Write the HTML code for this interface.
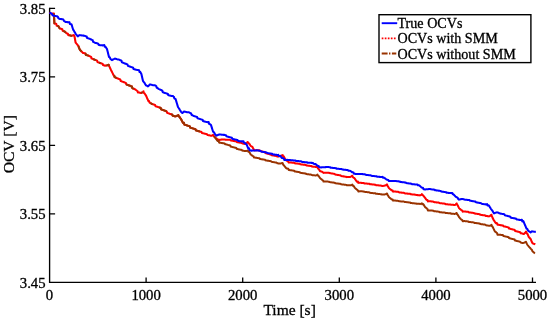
<!DOCTYPE html>
<html><head><meta charset="utf-8"><title>OCV</title>
<style>html,body{margin:0;padding:0;background:#fff}svg{display:block}text{font-family:"Liberation Serif","DejaVu Serif",serif;fill:#000;stroke:#000;stroke-width:0.3px}</style></head><body>
<svg width="550" height="321" viewBox="0 0 550 321">
<rect width="550" height="321" fill="#fff"/>
<path d="M49.6,7.800000000000001 V282.4 H536" fill="none" stroke="#000" stroke-width="1.35"/>
<path d="M146.1,282.4 v-5 M242.7,282.4 v-5 M339.3,282.4 v-5 M435.9,282.4 v-5 M532.5,282.4 v-5 M49.6,8.3 h5.5 M49.6,76.8 h5.5 M49.6,145.35 h5.5 M49.6,213.9 h5.5" fill="none" stroke="#000" stroke-width="1.3"/>
<text transform="translate(49.5,299.9) scale(1.075,1)" font-size="13.7" text-anchor="middle">0</text>
<text transform="translate(146.1,299.9) scale(1.075,1)" font-size="13.7" text-anchor="middle">1000</text>
<text transform="translate(242.7,299.9) scale(1.075,1)" font-size="13.7" text-anchor="middle">2000</text>
<text transform="translate(339.3,299.9) scale(1.075,1)" font-size="13.7" text-anchor="middle">3000</text>
<text transform="translate(435.9,299.9) scale(1.075,1)" font-size="13.7" text-anchor="middle">4000</text>
<text transform="translate(532.5,299.9) scale(1.075,1)" font-size="13.7" text-anchor="middle">5000</text>
<text transform="translate(45.6,14.0) scale(1.075,1)" font-size="13.7" text-anchor="end">3.85</text>
<text transform="translate(45.6,82.1) scale(1.075,1)" font-size="13.7" text-anchor="end">3.75</text>
<text transform="translate(45.6,150.7) scale(1.075,1)" font-size="13.7" text-anchor="end">3.65</text>
<text transform="translate(45.6,219.2) scale(1.075,1)" font-size="13.7" text-anchor="end">3.55</text>
<text transform="translate(45.6,288.3) scale(1.075,1)" font-size="13.7" text-anchor="end">3.45</text>
<text transform="translate(289.6,314.9)" font-size="15.5" text-anchor="middle">Time [s]</text>
<text transform="translate(14.1,144.2) rotate(-90) scale(1.04,1)" font-size="15" text-anchor="middle">OCV [V]</text>
<polyline points="49.50,12.86 49.90,12.89 50.30,12.93 50.70,13.17 51.10,13.83 51.50,13.77 51.90,13.71 52.30,13.65 52.70,13.59 53.10,13.53 53.50,13.45 53.90,13.50 53.90,13.50 54.30,21.42 54.40,23.40 54.70,23.60 55.10,23.47 55.50,23.63 55.90,23.79 56.30,23.95 56.70,25.65 57.10,25.81 57.50,25.97 57.90,26.06 58.30,26.13 58.30,26.13 58.70,26.70 59.10,27.39 59.50,28.08 59.80,28.55 59.90,28.57 60.30,28.63 60.70,28.72 61.10,28.82 61.50,28.93 61.90,29.03 62.30,29.15 62.70,30.83 63.10,30.96 63.50,31.09 63.90,31.18 64.20,31.23 64.30,31.30 64.70,31.60 65.10,31.95 65.50,32.30 65.90,32.65 66.30,33.00 66.70,33.31 67.10,33.55 67.10,33.55 67.50,33.57 67.90,33.68 68.30,35.15 68.70,35.18 69.10,35.22 69.50,35.28 69.90,35.36 70.30,35.46 70.70,35.59 71.10,35.72 71.50,35.84 71.50,35.84 71.90,35.68 72.30,35.53 72.70,35.42 73.10,35.30 73.50,35.19 73.90,35.07 74.30,35.90 74.40,35.90 74.70,37.55 75.10,39.75 75.50,41.95 75.60,42.50 75.90,42.87 76.30,43.42 76.70,43.88 77.10,44.35 77.50,44.81 77.90,45.30 78.30,45.87 78.40,46.00 78.70,46.82 79.10,47.91 79.50,49.00 79.50,49.00 79.90,49.61 80.30,50.21 80.70,50.62 81.10,51.02 81.50,51.43 81.90,51.83 82.30,52.24 82.70,52.64 83.00,52.91 83.10,52.93 83.50,52.98 83.90,53.08 84.30,53.19 84.70,53.32 85.10,53.45 85.50,53.59 85.90,54.89 86.30,55.00 86.70,55.12 87.10,55.24 87.50,55.35 87.90,55.46 88.00,55.49 88.30,55.62 88.70,55.80 89.10,55.98 89.50,56.16 89.90,56.33 90.30,56.50 90.70,56.66 91.10,56.83 91.50,58.37 91.90,58.54 92.30,58.71 92.70,58.88 93.10,59.05 93.50,59.23 93.90,59.40 94.00,59.45 94.30,59.56 94.70,59.70 95.10,59.85 95.50,60.00 95.90,60.14 96.30,60.29 96.70,60.45 97.10,60.60 97.50,62.06 97.90,62.21 98.30,62.36 98.70,62.51 99.10,62.66 99.50,62.81 99.90,62.96 100.00,63.00 100.30,63.09 100.70,63.22 101.10,63.34 101.50,63.47 101.90,63.60 102.30,63.76 102.70,63.93 103.10,65.05 103.50,65.16 103.90,65.28 104.30,65.42 104.70,65.56 105.00,65.68 105.10,65.67 105.50,65.62 105.90,65.59 106.30,65.55 106.70,65.47 107.10,65.36 107.50,65.22 107.90,65.04 108.30,64.89 108.70,64.77 109.00,65.97 109.10,66.05 109.50,66.70 109.90,67.58 110.30,68.46 110.70,69.34 111.00,70.00 111.10,70.20 111.50,71.00 111.90,71.80 112.30,72.60 112.70,73.40 113.10,74.20 113.50,75.00 113.90,75.70 114.00,75.82 114.30,75.75 114.70,77.18 115.10,77.35 115.50,77.52 115.90,77.69 116.30,77.85 116.70,78.02 117.10,78.18 117.50,78.36 117.90,78.54 118.30,78.72 118.70,78.90 119.00,79.03 119.10,79.06 119.50,79.20 119.90,79.34 120.30,79.49 120.70,81.01 121.10,81.15 121.50,81.29 121.90,81.44 122.30,81.59 122.70,81.73 123.10,81.88 123.50,82.03 123.90,82.18 124.30,82.33 124.70,82.48 125.00,82.59 125.10,82.63 125.50,82.78 125.90,82.92 126.30,84.40 126.70,84.54 127.10,84.69 127.50,84.84 127.90,84.99 128.30,85.14 128.70,85.29 129.10,85.44 129.50,85.58 129.90,85.73 130.00,85.77 130.30,85.90 130.70,86.07 131.10,86.23 131.50,86.38 131.90,86.53 132.30,88.12 132.70,88.29 133.10,88.46 133.50,88.61 133.90,88.76 134.00,88.79 134.30,88.97 134.70,89.22 135.10,89.47 135.50,89.73 135.90,89.98 136.30,90.25 136.70,90.52 137.10,90.80 137.50,91.06 137.90,92.51 138.00,92.58 138.30,92.56 138.70,92.56 139.10,92.57 139.50,92.62 139.90,92.69 140.30,92.78 140.70,92.90 141.00,92.98 141.10,92.94 141.50,92.74 141.90,92.52 142.30,92.27 142.70,92.00 143.10,91.70 143.50,91.32 143.60,92.72 143.90,92.86 144.30,93.11 144.70,93.70 145.10,94.29 145.50,94.86 145.90,95.45 146.00,95.60 146.30,96.27 146.70,97.17 147.10,98.07 147.50,98.97 147.90,99.87 148.30,100.77 148.40,100.97 148.70,100.98 149.10,100.99 149.50,102.51 149.90,102.75 150.30,103.00 150.70,103.24 151.10,103.49 151.50,103.73 151.90,103.99 152.00,104.05 152.30,104.13 152.70,104.23 153.10,104.34 153.50,104.46 153.90,104.59 154.30,104.72 154.70,104.86 155.10,105.00 155.50,106.23 155.90,106.36 156.30,106.48 156.70,106.61 157.10,106.73 157.50,106.85 157.90,106.97 158.00,107.00 158.30,107.11 158.70,107.25 159.10,107.40 159.50,107.54 159.90,107.68 160.30,107.81 160.70,107.95 161.10,109.34 161.50,109.48 161.90,109.62 162.30,109.76 162.70,109.90 163.10,110.04 163.50,110.18 163.90,110.32 164.00,110.36 164.30,110.47 164.70,110.62 165.10,110.77 165.50,110.92 165.90,111.07 166.30,111.21 166.70,111.36 167.10,112.83 167.50,112.97 167.90,113.12 168.30,113.26 168.70,113.41 169.10,113.57 169.50,113.72 169.90,113.88 170.00,113.92 170.30,114.00 170.70,114.12 171.10,114.23 171.50,114.35 171.90,114.47 172.30,114.63 172.70,115.71 173.10,115.80 173.50,115.90 173.90,116.02 174.30,116.15 174.70,116.30 175.00,116.42 175.10,116.39 175.50,116.29 175.90,116.18 176.30,116.05 176.70,115.91 177.10,115.74 177.50,115.56 177.90,115.36 178.30,115.07 178.60,116.25 178.70,116.31 179.10,116.50 179.50,116.96 179.90,117.51 180.30,118.06 180.70,118.58 181.00,119.00 181.10,119.20 181.50,120.00 181.90,120.80 182.30,121.60 182.70,122.40 183.00,122.85 183.10,122.83 183.50,122.72 183.90,122.77 184.30,124.55 184.70,124.68 185.10,124.80 185.50,124.90 185.90,124.99 186.30,125.13 186.70,125.29 187.10,125.44 187.50,125.59 187.90,125.75 188.00,125.79 188.30,125.88 188.70,126.00 189.10,126.13 189.50,126.25 189.90,126.38 190.30,127.64 190.70,127.75 191.10,127.87 191.50,128.00 191.90,128.12 192.30,128.24 192.70,128.37 193.10,128.49 193.50,128.62 193.90,128.75 194.00,128.78 194.30,128.87 194.70,128.98 195.10,129.10 195.50,129.21 195.90,130.37 196.30,130.48 196.70,130.60 197.10,130.71 197.50,130.83 197.90,130.94 198.30,131.06 198.70,131.18 199.10,131.30 199.50,131.42 199.90,131.54 200.00,131.57 200.30,131.64 200.70,131.74 201.10,131.84 201.50,131.94 201.90,132.95 202.30,133.05 202.70,133.14 203.10,133.24 203.50,133.34 203.90,133.43 204.30,133.53 204.70,133.64 205.10,133.74 205.50,133.85 205.90,133.95 206.30,134.06 206.50,134.12 206.70,134.16 207.10,134.23 207.50,135.04 207.90,135.11 208.30,135.17 208.70,135.23 209.10,135.28 209.50,135.35 209.90,135.44 210.30,135.54 210.70,135.63 211.10,135.71 211.50,135.77 211.50,135.77 211.90,135.57 212.30,135.35 212.70,135.12 213.10,134.89 213.40,135.79 213.50,135.89 213.90,136.12 214.30,136.50 214.70,136.93 215.10,137.36 215.50,137.78 215.50,137.78 215.90,138.09 216.30,138.38 216.70,138.68 217.10,139.00 217.50,139.31 217.90,139.59 218.00,139.68 218.30,139.65 218.70,139.63 219.10,140.08 219.50,139.94 219.90,139.82 220.30,139.73 220.70,139.68 221.10,139.63 221.50,139.58 221.90,139.53 222.30,139.48 222.70,139.44 223.00,139.40 223.10,139.41 223.50,139.44 223.90,139.47 224.30,139.49 224.70,139.50 225.10,139.63 225.50,139.67 225.90,139.70 226.30,139.73 226.70,139.75 227.10,139.77 227.50,139.79 227.90,139.81 228.30,139.82 228.70,139.83 229.10,139.84 229.50,139.84 229.90,139.84 230.00,139.84 230.30,139.89 230.70,140.39 231.10,140.48 231.50,140.56 231.90,140.64 232.30,140.72 232.70,140.79 233.10,140.86 233.50,140.92 233.90,140.99 234.30,141.05 234.70,141.12 235.10,141.18 235.50,141.25 235.90,141.31 236.00,141.33 236.30,141.38 236.70,142.06 237.10,142.13 237.50,142.20 237.90,142.27 238.30,142.34 238.70,142.41 239.10,142.48 239.50,142.55 239.90,142.62 240.30,142.69 240.70,142.76 241.00,142.82 241.10,142.83 241.50,142.90 241.90,142.96 242.30,143.54 242.70,143.55 243.10,143.59 243.50,143.64 243.90,143.72 244.30,143.82 244.70,143.92 245.00,144.00 245.10,143.93 245.50,143.66 245.90,143.39 246.30,143.11 246.70,142.78 247.10,142.42 247.50,142.03 247.50,142.03 247.90,142.16 248.30,143.19 248.70,143.34 249.00,143.41 249.10,143.53 249.50,144.03 249.90,144.63 250.30,145.29 250.70,145.91 250.70,145.91 251.10,146.16 251.50,146.38 251.90,146.61 252.30,146.91 252.70,147.33 252.70,147.33 253.10,148.21 253.50,148.92 253.90,149.98 254.00,150.23 254.30,150.40 254.70,150.33 255.10,150.26 255.50,150.21 255.90,150.17 256.30,150.14 256.70,150.15 257.10,150.19 257.50,150.21 257.90,150.24 258.30,150.25 258.70,150.26 259.10,150.27 259.50,150.27 259.90,150.83 260.00,150.83 260.30,150.93 260.70,151.05 261.10,151.17 261.50,151.28 261.90,151.39 262.30,151.49 262.70,151.59 263.10,151.68 263.50,151.77 263.90,151.87 264.30,151.96 264.70,152.05 265.10,152.14 265.50,153.11 265.50,153.11 265.90,153.22 266.30,153.33 266.70,153.44 267.10,153.55 267.50,153.65 267.90,153.76 268.30,153.87 268.70,153.98 269.10,154.10 269.50,154.22 269.90,154.34 270.00,154.37 270.30,154.41 270.70,154.47 271.10,154.54 271.50,155.25 271.90,155.30 272.30,155.35 272.70,155.40 273.10,155.46 273.50,155.52 273.90,155.58 274.30,155.65 274.70,155.71 275.10,155.77 275.50,155.86 275.90,155.95 276.30,156.06 276.70,156.17 277.10,156.44 277.50,156.50 277.90,156.57 278.00,156.60 278.30,156.52 278.70,156.41 279.10,156.29 279.50,156.18 279.90,156.07 280.30,155.96 280.70,155.85 281.10,155.70 281.50,155.48 281.60,155.42 281.90,155.36 282.30,155.24 282.70,155.09 283.10,156.60 283.50,156.37 283.60,156.28 283.90,156.62 284.30,157.40 284.70,158.20 285.10,159.00 285.50,159.80 285.60,160.00 285.90,160.21 286.30,160.43 286.70,160.68 287.10,160.92 287.50,161.14 287.90,161.35 288.00,161.44 288.30,161.51 288.70,162.55 289.10,162.51 289.50,162.49 289.90,162.48 290.30,162.49 290.70,162.50 291.10,162.54 291.50,162.58 291.90,162.62 292.30,162.66 292.70,162.70 293.10,162.74 293.50,162.78 293.90,162.82 294.00,162.83 294.30,162.86 294.70,163.29 295.10,163.33 295.50,163.37 295.90,163.42 296.30,163.46 296.70,163.51 297.10,163.55 297.50,163.59 297.90,163.64 298.30,163.68 298.70,163.72 299.10,163.77 299.50,163.81 299.90,163.85 300.30,164.29 300.70,164.33 301.10,164.38 301.50,164.42 301.90,164.46 302.00,164.47 302.30,164.51 302.70,164.56 303.10,164.61 303.50,164.66 303.90,164.71 304.30,164.76 304.70,164.81 305.10,164.86 305.50,164.91 305.90,164.96 306.30,165.45 306.70,165.50 307.10,165.55 307.50,165.60 307.90,165.65 308.30,165.70 308.70,165.75 309.10,165.80 309.50,165.85 309.90,165.90 310.00,165.91 310.30,165.95 310.70,165.99 311.10,166.03 311.50,166.08 311.90,166.53 312.30,166.57 312.70,166.61 313.10,166.67 313.50,166.71 313.90,166.76 314.30,166.80 314.70,166.83 315.10,166.85 315.50,166.85 315.60,166.85 315.90,166.89 316.30,166.93 316.70,166.94 317.10,166.94 317.50,166.97 317.90,168.48 318.00,168.44 318.30,168.67 318.70,169.10 319.10,169.69 319.50,170.30 319.90,170.92 320.00,171.07 320.30,171.18 320.70,171.29 321.10,171.39 321.50,171.53 321.90,171.69 322.30,171.89 322.70,172.12 323.00,172.31 323.10,172.31 323.50,172.89 323.90,172.85 324.30,172.81 324.70,172.79 325.10,172.77 325.50,172.77 325.90,172.77 326.30,172.79 326.70,172.80 327.10,172.81 327.50,172.82 327.90,172.82 328.30,172.82 328.70,172.82 329.10,172.81 329.50,173.10 329.90,173.11 330.00,173.12 330.30,173.18 330.70,173.26 331.10,173.34 331.50,173.41 331.90,173.48 332.30,173.55 332.70,173.61 333.10,173.67 333.50,173.73 333.90,173.79 334.30,173.86 334.70,173.92 335.10,174.53 335.50,174.59 335.90,174.66 336.30,174.72 336.70,174.78 337.10,174.84 337.50,174.90 337.90,174.97 338.00,174.98 338.30,175.03 338.70,175.09 339.10,175.15 339.50,175.21 339.90,175.28 340.30,175.34 340.70,175.40 341.10,176.01 341.50,176.07 341.90,176.14 342.30,176.20 342.70,176.26 343.10,176.32 343.50,176.38 343.90,176.45 344.30,176.52 344.70,176.60 345.10,176.68 345.50,176.77 345.90,176.86 346.00,176.89 346.30,176.88 346.70,177.10 347.10,177.06 347.50,177.02 347.90,177.00 348.30,177.00 348.70,177.00 349.10,177.00 349.50,177.00 349.90,177.00 350.00,177.00 350.30,176.85 350.70,176.62 351.10,176.37 351.50,176.10 351.90,175.77 352.00,175.68 352.30,175.81 352.70,176.95 353.10,177.29 353.50,177.62 353.90,177.85 354.30,178.04 354.40,178.09 354.70,178.50 355.10,179.08 355.50,179.69 355.90,180.30 356.30,180.90 356.70,181.37 357.00,181.63 357.10,181.56 357.50,181.44 357.90,181.49 358.30,182.85 358.70,182.77 359.10,182.71 359.50,182.67 359.90,182.67 360.30,182.71 360.70,182.76 361.10,182.81 361.50,182.87 361.90,182.92 362.00,182.94 362.30,182.96 362.70,182.99 363.10,183.02 363.50,183.05 363.90,183.08 364.30,183.41 364.70,183.44 365.10,183.47 365.50,183.50 365.90,183.53 366.30,183.56 366.70,183.59 367.10,183.62 367.50,183.65 367.90,183.68 368.30,183.71 368.70,183.74 369.10,183.77 369.50,183.79 369.90,184.14 370.00,184.14 370.30,184.18 370.70,184.23 371.10,184.27 371.50,184.32 371.90,184.36 372.30,184.40 372.70,184.44 373.10,184.49 373.50,184.53 373.90,184.57 374.30,184.61 374.70,184.66 375.10,184.70 375.50,184.74 375.90,185.13 376.00,185.14 376.30,185.17 376.70,185.20 377.10,185.23 377.50,185.27 377.90,185.30 378.30,185.33 378.70,185.37 379.10,185.40 379.50,185.44 379.90,185.48 380.30,185.53 380.70,185.59 381.10,185.66 381.50,185.83 381.90,185.86 382.30,185.90 382.70,185.96 383.00,186.00 383.10,185.98 383.50,185.88 383.90,185.78 384.30,185.68 384.70,185.57 385.10,185.43 385.50,185.27 385.90,185.07 386.30,184.86 386.70,184.62 387.00,184.44 387.10,184.64 387.50,185.90 387.90,186.41 388.30,187.00 388.70,187.63 389.00,188.10 389.10,188.20 389.50,188.58 389.90,188.92 390.30,189.25 390.70,189.58 391.10,189.91 391.50,190.24 391.90,190.49 392.00,190.56 392.30,190.58 392.70,190.62 393.10,191.63 393.50,191.58 393.90,191.55 394.30,191.53 394.70,191.54 395.10,191.56 395.50,191.60 395.90,191.64 396.30,191.68 396.70,191.73 397.10,191.77 397.50,191.81 397.90,191.85 398.00,191.86 398.30,191.89 398.70,191.93 399.10,192.36 399.50,192.40 399.90,192.44 400.30,192.49 400.70,192.53 401.10,192.58 401.50,192.62 401.90,192.66 402.30,192.71 402.70,192.75 403.10,192.79 403.50,192.84 403.90,192.88 404.30,192.93 404.70,193.34 405.10,193.39 405.50,193.43 405.90,193.48 406.00,193.49 406.30,193.51 406.70,193.55 407.10,193.58 407.50,193.62 407.90,193.66 408.30,193.69 408.70,193.73 409.10,193.77 409.50,193.81 409.90,193.84 410.30,193.88 410.70,194.25 411.10,194.28 411.50,194.32 411.90,194.36 412.30,194.40 412.70,194.43 413.10,194.47 413.50,194.51 413.90,194.55 414.00,194.56 414.30,194.58 414.70,194.61 415.10,194.65 415.50,194.68 415.90,194.71 416.30,195.05 416.70,195.08 417.10,195.10 417.50,195.12 417.90,195.14 418.30,195.18 418.70,195.23 419.10,195.28 419.50,195.33 419.90,195.38 420.00,195.39 420.30,195.23 420.70,195.00 421.10,194.75 421.50,194.47 421.90,194.16 422.30,194.91 422.40,194.87 422.70,195.12 423.10,195.44 423.50,195.94 423.90,196.43 424.30,196.91 424.40,197.03 424.70,197.42 425.10,197.95 425.50,198.48 425.90,199.01 426.30,199.54 426.70,199.91 427.00,200.09 427.10,200.03 427.50,199.99 427.90,201.41 428.30,201.33 428.70,201.27 429.10,201.24 429.50,201.22 429.90,201.24 430.30,201.28 430.70,201.33 431.10,201.38 431.50,201.44 431.90,201.49 432.00,201.50 432.30,201.53 432.70,201.58 433.10,201.62 433.50,201.66 433.90,202.10 434.30,202.14 434.70,202.19 435.10,202.23 435.50,202.27 435.90,202.32 436.30,202.36 436.70,202.40 437.10,202.45 437.50,202.49 437.90,202.53 438.30,202.58 438.70,202.62 439.10,202.66 439.50,203.09 439.90,203.14 440.00,203.15 440.30,203.18 440.70,203.22 441.10,203.27 441.50,203.31 441.90,203.35 442.30,203.40 442.70,203.44 443.10,203.48 443.50,203.53 443.90,203.57 444.30,203.61 444.70,203.66 445.10,203.70 445.50,204.12 445.90,204.16 446.30,204.20 446.70,204.25 447.10,204.29 447.50,204.34 447.90,204.39 448.00,204.40 448.30,204.41 448.70,204.43 449.10,204.45 449.50,204.47 449.90,204.49 450.30,204.51 450.70,204.54 451.10,204.75 451.50,204.77 451.90,204.80 452.30,204.80 452.70,204.81 453.10,204.84 453.50,204.87 453.90,204.91 454.30,204.94 454.70,204.94 455.00,204.90 455.10,204.83 455.50,204.51 455.90,204.15 456.30,203.80 456.70,203.45 457.00,204.57 457.10,204.62 457.50,205.00 457.90,205.80 458.30,206.60 458.70,207.40 459.00,208.02 459.10,208.13 459.50,208.51 459.90,208.85 460.30,209.18 460.70,209.51 461.10,209.84 461.50,210.14 461.90,210.39 462.00,210.47 462.30,210.49 462.70,211.62 463.10,211.56 463.50,211.52 463.90,211.50 464.30,211.49 464.70,211.51 465.10,211.54 465.50,211.58 465.90,211.62 466.30,211.66 466.70,211.70 467.10,211.73 467.50,211.77 467.90,211.81 468.00,211.82 468.30,211.86 468.70,212.32 469.10,212.37 469.50,212.42 469.90,212.48 470.30,212.53 470.70,212.58 471.10,212.63 471.50,212.68 471.90,212.73 472.30,212.78 472.70,212.83 473.10,212.88 473.50,212.92 473.90,212.97 474.30,213.47 474.70,213.52 475.10,213.57 475.50,213.62 475.90,213.67 476.00,213.68 476.30,213.72 476.70,213.78 477.10,213.84 477.50,213.90 477.90,213.95 478.30,214.01 478.70,214.06 479.10,214.12 479.50,214.17 479.90,214.23 480.30,214.78 480.70,214.84 481.10,214.89 481.50,214.95 481.90,215.00 482.30,215.06 482.70,215.12 483.10,215.17 483.50,215.23 483.90,215.29 484.00,215.30 484.30,215.34 484.70,215.39 485.10,215.44 485.50,215.49 485.90,215.99 486.30,216.01 486.70,216.04 487.10,216.07 487.50,216.12 487.90,216.18 488.30,216.26 488.70,216.34 489.00,216.39 489.10,216.34 489.50,216.12 489.90,215.85 490.30,215.54 490.70,215.23 491.10,214.90 491.50,214.74 491.60,215.89 491.90,216.11 492.30,217.05 492.70,217.99 493.10,218.93 493.30,219.40 493.50,219.70 493.90,220.32 494.30,220.92 494.70,221.52 495.10,222.12 495.50,222.69 495.90,223.11 496.00,223.21 496.30,223.12 496.70,223.12 497.10,223.17 497.50,224.77 497.90,224.76 498.30,224.77 498.70,224.80 499.10,224.87 499.50,224.97 499.80,225.05 499.90,225.07 500.30,225.12 500.70,225.19 501.10,225.25 501.50,225.32 501.90,225.38 502.30,225.46 502.70,225.52 503.10,225.58 503.50,226.30 503.90,226.37 504.30,226.43 504.70,226.50 505.10,226.56 505.30,226.59 505.50,226.65 505.90,226.76 506.30,226.87 506.70,226.98 507.10,227.09 507.50,227.19 507.90,227.29 508.30,227.38 508.70,227.49 509.10,228.50 509.50,228.61 509.90,228.71 510.30,228.81 510.70,228.92 511.10,229.02 511.50,229.12 511.80,229.20 511.90,229.23 512.30,229.33 512.70,229.43 513.10,229.53 513.50,229.63 513.90,229.73 514.30,229.83 514.70,229.94 515.10,230.94 515.50,231.04 515.90,231.14 516.30,231.24 516.70,231.34 517.10,231.45 517.50,231.55 517.90,231.65 518.30,231.75 518.40,231.78 518.70,231.85 519.10,231.95 519.50,232.05 519.90,232.15 520.30,232.26 520.70,233.26 521.10,233.30 521.50,233.35 521.90,233.43 522.30,233.53 522.70,233.65 523.10,233.81 523.50,233.98 523.80,234.09 523.90,234.00 524.30,233.63 524.70,233.23 525.10,232.77 525.50,232.27 525.90,231.76 526.00,231.64 526.30,231.94 526.70,233.29 527.10,233.69 527.50,233.98 527.60,234.10 527.90,234.84 528.30,235.82 528.70,236.80 528.70,236.80 529.10,237.30 529.50,237.75 529.90,238.20 530.30,238.65 530.70,239.25 530.90,239.50 531.10,240.01 531.50,241.03 531.90,242.05 532.00,242.29 532.30,242.87 532.70,243.38 533.10,243.52 533.50,243.67 533.90,243.81 534.30,243.93 534.70,244.07 535.10,244.26 535.30,244.36" fill="none" stroke="#ff0000" stroke-width="2.05" stroke-linejoin="round"/>
<polyline points="53.90,13.50 53.90,13.50 54.30,21.42 54.40,23.40 54.70,23.60" fill="none" stroke="#993300" stroke-width="2.0" stroke-linejoin="round"/>
<polyline points="57.10,25.81 57.50,25.97 57.90,26.06 58.30,26.13 58.30,26.13 58.70,26.70 59.10,27.39 59.50,28.08 59.80,28.55 59.90,28.57" fill="none" stroke="#993300" stroke-width="2.0" stroke-linejoin="round"/>
<polyline points="63.10,30.96 63.50,31.09 63.90,31.18 64.20,31.23 64.30,31.30 64.70,31.60 65.10,31.95 65.50,32.30 65.90,32.65" fill="none" stroke="#993300" stroke-width="2.0" stroke-linejoin="round"/>
<polyline points="69.10,35.22 69.50,35.28 69.90,35.36 70.30,35.46 70.70,35.59 71.10,35.72 71.50,35.84 71.50,35.84 71.90,35.68" fill="none" stroke="#993300" stroke-width="2.0" stroke-linejoin="round"/>
<polyline points="78.30,45.87 78.40,46.00 78.70,46.82 79.10,47.91 79.50,49.00 79.50,49.00 79.90,49.61 80.30,50.21 80.70,50.62 81.10,51.02 81.50,51.43" fill="none" stroke="#993300" stroke-width="2.0" stroke-linejoin="round"/>
<polyline points="85.10,53.45 85.50,53.59 85.90,54.89 86.30,55.00 86.70,55.12 87.10,55.24 87.50,55.35 87.90,55.46 88.00,55.49 88.30,55.62 88.70,55.80" fill="none" stroke="#993300" stroke-width="2.0" stroke-linejoin="round"/>
<polyline points="93.10,59.05 93.50,59.23 93.90,59.40 94.00,59.45 94.30,59.56 94.70,59.70 95.10,59.85 95.50,60.00 95.90,60.14" fill="none" stroke="#993300" stroke-width="2.0" stroke-linejoin="round"/>
<polyline points="99.10,62.66 99.50,62.81 99.90,62.96 100.00,63.00 100.30,63.09 100.70,63.22" fill="none" stroke="#993300" stroke-width="2.0" stroke-linejoin="round"/>
<polyline points="106.30,65.55 106.70,65.47 107.10,65.36 107.50,65.22 107.90,65.04 108.30,64.89 108.70,64.77 109.00,65.97" fill="none" stroke="#993300" stroke-width="2.0" stroke-linejoin="round"/>
<polyline points="114.00,75.82 114.30,75.75 114.70,77.18 115.10,77.35 115.50,77.52 115.90,77.69 116.30,77.85 116.70,78.02" fill="none" stroke="#993300" stroke-width="2.0" stroke-linejoin="round"/>
<polyline points="126.30,84.40 126.70,84.54 127.10,84.69 127.50,84.84 127.90,84.99 128.30,85.14 128.70,85.29 129.10,85.44 129.50,85.58 129.90,85.73 130.00,85.77 130.30,85.90 130.70,86.07 131.10,86.23 131.50,86.38 131.90,86.53 132.30,88.12 132.70,88.29 133.10,88.46 133.50,88.61 133.90,88.76 134.00,88.79" fill="none" stroke="#993300" stroke-width="2.0" stroke-linejoin="round"/>
<polyline points="141.00,92.98 141.10,92.94 141.50,92.74 141.90,92.52 142.30,92.27 142.70,92.00" fill="none" stroke="#993300" stroke-width="2.0" stroke-linejoin="round"/>
<polyline points="150.30,103.00 150.70,103.24 151.10,103.49 151.50,103.73 151.90,103.99 152.00,104.05 152.30,104.13 152.70,104.23" fill="none" stroke="#993300" stroke-width="2.0" stroke-linejoin="round"/>
<polyline points="159.10,107.40 159.50,107.54 159.90,107.68 160.30,107.81 160.70,107.95 161.10,109.34 161.50,109.48 161.90,109.62 162.30,109.76 162.70,109.90 163.10,110.04 163.50,110.18 163.90,110.32 164.00,110.36 164.30,110.47 164.70,110.62 165.10,110.77 165.50,110.92 165.90,111.07 166.30,111.21 166.70,111.36" fill="none" stroke="#993300" stroke-width="2.0" stroke-linejoin="round"/>
<polyline points="171.10,114.23 171.50,114.35 171.90,114.47 172.30,114.63 172.70,115.71 173.10,115.80 173.50,115.90 173.90,116.02 174.30,116.15 174.70,116.30 175.00,116.42 175.10,116.39 175.50,116.29 175.90,116.18 176.30,116.05 176.70,115.91 177.10,115.74 177.50,115.56 177.90,115.36 178.30,115.07 178.60,116.25 178.70,116.31 179.10,116.50 179.50,116.96 179.90,117.51 180.30,118.06 180.70,118.58 181.00,119.00 181.10,119.20 181.50,120.00 181.90,120.80 182.30,121.60 182.70,122.40 183.00,122.85 183.10,122.83 183.50,122.72 183.90,122.77 184.30,124.55 184.70,124.68 185.10,124.80 185.50,124.90 185.90,124.99 186.30,125.13 186.70,125.29 187.10,125.44 187.50,125.59 187.90,125.75 188.00,125.79 188.30,125.88 188.70,126.00 189.10,126.13 189.50,126.25 189.90,126.38 190.30,127.64 190.70,127.75 191.10,127.87 191.50,128.00 191.90,128.12 192.30,128.24 192.70,128.37 193.10,128.49 193.50,128.62 193.90,128.75 194.00,128.78 194.30,128.87 194.70,128.98 195.10,129.10 195.50,129.21 195.90,130.37 196.30,130.48 196.70,130.60 197.10,130.71 197.50,130.83 197.90,130.94 198.30,131.06 198.70,131.18 199.10,131.30 199.50,131.42 199.90,131.54 200.00,131.57" fill="none" stroke="#993300" stroke-width="2.0" stroke-linejoin="round"/>
<polyline points="213.90,136.20 214.30,136.61 214.70,137.09 215.10,137.56 215.50,138.03 215.50,138.03 215.90,138.60 216.30,139.19 216.70,139.78 217.10,140.37 217.50,140.81 217.70,141.00 217.90,140.95 218.30,140.91 218.70,140.97 219.10,142.64 219.50,142.64 219.90,142.67 220.30,142.71 220.70,142.79 221.10,142.91 221.30,142.97 221.50,142.99 221.90,143.05 222.30,143.10 222.70,143.16 223.10,143.23 223.50,143.29 223.90,143.35 224.30,143.42 224.70,143.46 225.10,144.21 225.50,144.28 225.90,144.34 226.20,144.39 226.30,144.42 226.70,144.54 227.10,144.66 227.50,144.77 227.90,144.89 228.30,145.00 228.70,145.10 229.10,145.21 229.50,145.31 229.90,145.42 230.30,145.53 230.70,146.57 231.10,146.68 231.50,146.78 231.90,146.89 232.30,147.00 232.70,147.11 232.70,147.11 233.10,147.20 233.50,147.29 233.90,147.38 234.30,147.47 234.70,147.57 235.10,147.66 235.50,147.76 235.90,147.85 236.30,147.95 236.70,148.87 237.10,148.96 237.50,149.05 237.90,149.14 238.30,149.24 238.70,149.34 239.10,149.44 239.30,149.49 239.50,149.52 239.90,149.58 240.30,149.65 240.70,149.72 241.10,149.79 241.50,149.86 241.90,149.94 242.30,150.62 242.70,150.67 243.10,150.73 243.50,150.80 243.90,150.87 244.30,150.95 244.70,151.03 245.00,151.10 245.10,151.09 245.50,151.08 245.90,151.06 246.30,150.99 246.70,150.89 247.10,150.77 247.50,150.61 247.90,150.45 248.30,151.71 248.70,151.60 248.80,151.50 249.10,151.77 249.50,152.32 249.90,153.01 250.30,153.71 250.70,154.41 250.70,154.41 251.10,154.74 251.50,155.04 251.90,155.35 252.30,155.66 252.70,155.94 253.10,156.13 253.20,156.19 253.50,156.25 253.90,157.58 254.30,157.57 254.70,157.58 255.10,157.61 255.50,157.64 255.90,157.69 256.30,157.76 256.70,157.83 257.10,157.91 257.50,157.99 257.90,158.06 258.30,158.14 258.70,158.22 258.90,158.26 259.10,158.29 259.50,158.35 259.90,158.99 260.30,159.04 260.70,159.10 261.10,159.16 261.50,159.21 261.90,159.27 262.30,159.33 262.70,159.39 263.10,159.45 263.50,159.51 263.90,159.57 264.30,159.63 264.70,159.69 265.10,159.75 265.50,160.35 265.50,160.35 265.90,160.41 266.30,160.47 266.70,160.54 267.10,160.60 267.50,160.66 267.90,160.72 268.30,160.78 268.70,160.84 269.10,160.90 269.50,160.96 269.90,161.02 270.30,161.08 270.70,161.14 271.10,161.20 271.50,161.82 271.90,161.88 272.00,161.89 272.30,161.94 272.70,162.01 273.10,162.07 273.50,162.13 273.90,162.20 274.30,162.26 274.70,162.33 275.10,162.39 275.50,162.45 275.90,162.53 276.30,162.60 276.70,162.69 277.10,163.22 277.50,163.28 277.90,163.35 278.30,163.42 278.60,163.47 278.70,163.47 279.10,163.46 279.50,163.46 279.90,163.46 280.30,163.44 280.70,163.40 281.10,163.34 281.50,163.26 281.90,163.15 282.30,163.01 282.60,162.95 282.70,163.11 283.10,164.54 283.50,164.95 283.90,165.43 284.30,165.92 284.30,165.92 284.70,166.39 285.10,166.85 285.50,167.31 285.90,167.77 286.30,168.20 286.70,168.55 286.70,168.55 287.10,168.52 287.50,168.60 287.90,168.70 288.30,168.82 288.70,170.02 289.10,170.03 289.50,170.07 289.90,170.14 290.00,170.16 290.30,170.20 290.70,170.25 291.10,170.31 291.50,170.36 291.90,170.42 292.30,170.48 292.70,170.55 293.10,170.61 293.50,170.68 293.90,170.74 294.00,170.75 294.30,170.80 294.70,171.41 295.10,171.47 295.50,171.54 295.90,171.60 296.30,171.66 296.70,171.72 297.10,171.78 297.50,171.85 297.90,171.91 298.30,171.97 298.70,172.03 299.10,172.10 299.50,172.16 299.90,172.23 300.30,172.82 300.70,172.88 301.10,172.94 301.50,173.01 301.90,173.07 302.00,173.09 302.30,173.12 302.70,173.16 303.10,173.21 303.50,173.26 303.90,173.31 304.30,173.36 304.70,173.41 305.10,173.46 305.50,173.51 305.90,173.56 306.30,174.05 306.70,174.10 307.10,174.15 307.50,174.20 307.90,174.25 308.30,174.30 308.70,174.35 309.10,174.40 309.50,174.45 309.90,174.50 310.00,174.52 310.30,174.55 310.70,174.59 311.10,174.63 311.50,174.67 311.90,175.09 312.30,175.13 312.70,175.17 313.10,175.21 313.50,175.24 313.90,175.28 314.30,175.32 314.70,175.38 315.10,175.44 315.50,175.47 315.90,175.48 316.00,175.48 316.30,175.32 316.70,175.08 317.10,174.82 317.50,174.57 317.90,175.58 318.00,175.54 318.30,175.73 318.70,176.09 319.10,176.69 319.50,177.29 319.90,177.89 320.00,178.04 320.30,178.31 320.70,178.65 321.10,178.98 321.50,179.31 321.90,179.64 322.30,179.98 322.70,180.25 323.00,180.44 323.10,180.44 323.50,181.58 323.90,181.52 324.30,181.46 324.70,181.43 325.10,181.41 325.50,181.41 325.90,181.43 326.30,181.47 326.70,181.50 327.10,181.54 327.50,181.57 327.90,181.60 328.30,181.63 328.70,181.66 329.10,181.69 329.50,182.09 329.90,182.12 330.00,182.13 330.30,182.17 330.70,182.23 331.10,182.28 331.50,182.34 331.90,182.39 332.30,182.44 332.70,182.49 333.10,182.54 333.50,182.59 333.90,182.64 334.30,182.69 334.70,182.73 335.10,183.22 335.50,183.27 335.90,183.32 336.30,183.37 336.70,183.42 337.10,183.47 337.50,183.52 337.90,183.57 338.00,183.59 338.30,183.62 338.70,183.66 339.10,183.70 339.50,183.75 339.90,183.79 340.30,183.83 340.70,183.88 341.10,184.31 341.50,184.35 341.90,184.40 342.30,184.44 342.70,184.48 343.10,184.53 343.50,184.57 343.90,184.61 344.30,184.66 344.70,184.71 345.10,184.76 345.50,184.81 345.90,184.87 346.00,184.88 346.30,184.90 346.70,185.18 347.10,185.18 347.50,185.19 347.90,185.21 348.30,185.22 348.70,185.23 349.10,185.25 349.50,185.28 349.90,185.31 350.30,185.32 350.70,185.30 351.00,185.26 351.10,185.22 351.50,185.03 351.90,184.81 352.30,184.58 352.70,185.60 353.00,185.49 353.10,185.56 353.50,185.86 353.90,186.39 354.30,186.98 354.70,187.58 355.00,188.02 355.10,188.11 355.50,188.45 355.90,188.78 356.30,189.11 356.70,189.44 357.10,189.78 357.50,190.11 357.90,190.33 358.00,190.41 358.30,191.55 358.70,191.46 359.10,191.39 359.50,191.34 359.90,191.30 360.30,191.28 360.70,191.29 361.10,191.31 361.50,191.33 361.90,191.35 362.30,191.37 362.70,191.39 363.10,191.41 363.50,191.43 363.90,191.44 364.00,191.75 364.30,191.79 364.70,191.84 365.10,191.89 365.50,191.94 365.90,191.99 366.30,192.03 366.70,192.08 367.10,192.12 367.50,192.17 367.90,192.21 368.30,192.25 368.70,192.30 369.10,192.34 369.50,192.39 369.90,192.81 370.30,192.85 370.70,192.89 371.10,192.94 371.50,192.98 371.90,193.03 372.00,193.04 372.30,193.06 372.70,193.10 373.10,193.13 373.50,193.17 373.90,193.21 374.30,193.25 374.70,193.28 375.10,193.32 375.50,193.36 375.90,193.73 376.30,193.76 376.70,193.80 377.10,193.84 377.50,193.87 377.90,193.91 378.30,193.95 378.70,193.99 379.10,194.03 379.50,194.07 379.90,194.11 380.00,194.12 380.30,194.14 380.70,194.17 381.10,194.20 381.50,194.44 381.90,194.45 382.30,194.46 382.70,194.48 383.10,194.51 383.50,194.55 383.90,194.59 384.00,194.60 384.30,194.54 384.70,194.44 385.10,194.31 385.50,194.15 385.90,193.97 386.30,193.77 386.70,193.56 387.00,193.43 387.10,193.63 387.50,194.90 387.90,195.41 388.30,196.00 388.70,196.63 389.00,197.10 389.10,197.20 389.50,197.58 389.90,197.92 390.30,198.25 390.70,198.58 391.10,198.91 391.50,199.24 391.90,199.49 392.00,199.56 392.30,199.58 392.70,199.62 393.10,200.63 393.50,200.58 393.90,200.55 394.30,200.53 394.70,200.54 395.10,200.56 395.50,200.60 395.90,200.64 396.30,200.69 396.70,200.73 397.10,200.77 397.50,200.82 397.90,200.87 398.00,200.88 398.30,200.90 398.70,200.93 399.10,201.27 399.50,201.30 399.90,201.32 400.30,201.35 400.70,201.38 401.10,201.41 401.50,201.44 401.90,201.47 402.30,201.50 402.70,201.54 403.10,201.57 403.50,201.59 403.90,201.62 404.30,201.65 404.70,201.98 405.10,202.01 405.50,202.04 405.90,202.07 406.00,202.08 406.30,202.12 406.70,202.16 407.10,202.21 407.50,202.26 407.90,202.30 408.30,202.34 408.70,202.39 409.10,202.43 409.50,202.47 409.90,202.52 410.30,202.56 410.70,202.99 411.10,203.03 411.50,203.07 411.90,203.11 412.30,203.16 412.70,203.20 413.10,203.25 413.50,203.30 413.90,203.35 414.00,203.36 414.30,203.37 414.70,203.39 415.10,203.41 415.50,203.43 415.90,203.46 416.30,203.70 416.70,203.71 417.10,203.73 417.50,203.75 417.90,203.77 418.30,203.79 418.70,203.81 419.10,203.84 419.50,203.87 419.90,203.91 420.30,203.90 420.70,203.86 421.00,203.80 421.10,203.75 421.50,203.53 421.90,203.27 422.30,204.29 422.70,204.17 423.00,204.00 423.10,204.08 423.50,204.47 423.90,205.13 424.30,205.81 424.70,206.49 425.00,206.99 425.10,207.07 425.50,207.39 425.90,207.71 426.30,208.04 426.70,208.38 427.10,208.71 427.50,209.01 427.90,210.49 428.00,210.58 428.30,210.52 428.70,210.47 429.10,210.43 429.50,210.41 429.90,210.40 430.30,210.41 430.70,210.44 431.10,210.48 431.50,210.53 431.90,210.57 432.30,210.61 432.70,210.65 433.10,210.69 433.50,210.73 433.90,211.15 434.00,211.16 434.30,211.19 434.70,211.23 435.10,211.28 435.50,211.32 435.90,211.37 436.30,211.41 436.70,211.45 437.10,211.50 437.50,211.54 437.90,211.58 438.30,211.63 438.70,211.67 439.10,211.71 439.50,212.14 439.90,212.18 440.30,212.22 440.70,212.26 441.10,212.31 441.50,212.35 441.90,212.40 442.00,212.41 442.30,212.43 442.70,212.46 443.10,212.49 443.50,212.52 443.90,212.55 444.30,212.58 444.70,212.62 445.10,212.65 445.50,212.96 445.90,212.99 446.30,213.02 446.70,213.05 447.10,213.08 447.50,213.11 447.90,213.14 448.30,213.17 448.70,213.20 449.10,213.24 449.50,213.27 449.90,213.30 450.00,213.31 450.30,213.33 450.70,213.36 451.10,213.66 451.50,213.69 451.90,213.72 452.30,213.74 452.70,213.76 453.10,213.79 453.50,213.82 453.90,213.87 454.30,213.90 454.70,213.90 455.00,213.87 455.10,213.83 455.50,213.64 455.90,213.41 456.30,213.18 456.70,212.93 457.00,214.20 457.10,214.25 457.50,214.48 457.90,215.13 458.30,215.81 458.70,216.50 459.00,217.03 459.10,217.15 459.50,217.61 459.90,218.05 460.30,218.48 460.70,218.91 461.10,219.35 461.50,219.74 461.90,219.97 462.00,220.03 462.30,220.00 462.70,221.29 463.10,221.21 463.50,221.16 463.90,221.12 464.30,221.10 464.70,221.11 465.10,221.14 465.50,221.18 465.90,221.22 466.30,221.26 466.70,221.30 467.10,221.34 467.50,221.38 467.90,221.42 468.00,221.43 468.30,221.46 468.70,221.89 469.10,221.93 469.50,221.97 469.90,222.02 470.30,222.06 470.70,222.11 471.10,222.15 471.50,222.19 471.90,222.24 472.30,222.28 472.70,222.32 473.10,222.37 473.50,222.41 473.90,222.45 474.30,222.89 474.70,222.93 475.10,222.98 475.50,223.02 475.90,223.06 476.00,223.07 476.30,223.11 476.70,223.16 477.10,223.21 477.50,223.26 477.90,223.31 478.30,223.36 478.70,223.41 479.10,223.46 479.50,223.51 479.90,223.56 480.30,224.05 480.70,224.10 481.10,224.15 481.50,224.20 481.90,224.25 482.30,224.30 482.70,224.35 483.10,224.40 483.50,224.44 483.90,224.49 484.00,224.50 484.30,224.55 484.70,224.60 485.10,224.66 485.50,224.72 485.90,225.28 486.30,225.34 486.70,225.40 487.10,225.45 487.50,225.50 487.90,225.55 488.30,225.62 488.70,225.69 489.10,225.77 489.50,225.80 489.90,225.80 490.00,225.80 490.30,225.64 490.70,225.39 491.10,225.11 491.50,224.87 491.90,226.25 492.00,226.08 492.30,226.29 492.70,227.00 493.10,227.80 493.50,228.60 493.90,229.40 494.30,230.20 494.70,231.00 494.90,231.39 495.10,231.55 495.50,231.81 495.90,232.14 496.30,232.48 496.70,232.81 497.10,233.09 497.50,234.66 497.60,234.75 497.90,234.69 498.30,234.67 498.70,234.66 499.10,234.67 499.50,234.69 499.90,234.72 500.30,234.78 500.70,234.84 501.10,234.90 501.50,234.95 501.90,235.01 502.30,235.06 502.70,235.11 503.10,235.16 503.10,235.84 503.50,235.95 503.90,236.06 504.30,236.16 504.70,236.26 505.10,236.36 505.50,236.45 505.90,236.55 506.30,236.64 506.70,236.73 507.10,236.82 507.50,236.91 507.90,237.00 508.30,237.09 508.70,237.17 509.10,238.11 509.50,238.20 509.60,238.23 509.90,238.31 510.30,238.41 510.70,238.52 511.10,238.62 511.50,238.72 511.90,238.83 512.30,238.93 512.70,239.03 513.10,239.13 513.50,239.23 513.90,239.33 514.30,239.44 514.70,239.54 515.10,240.53 515.50,240.63 515.90,240.73 516.20,240.81 516.30,240.83 516.70,240.93 517.10,241.02 517.50,241.11 517.90,241.21 518.30,241.30 518.70,241.40 519.10,241.50 519.50,241.59 519.90,241.71 520.30,241.85 520.70,242.62 521.10,242.69 521.50,242.78 521.90,242.88 522.30,242.99 522.70,243.12 522.70,243.12 523.10,243.01 523.50,242.90 523.90,242.76 524.30,242.60 524.70,242.42 525.10,242.22 525.50,242.01 525.90,241.76 526.00,241.77 526.30,242.51 526.70,243.48 527.10,244.16 527.50,244.88 527.60,245.07 527.90,245.46 528.30,245.95 528.70,246.40 529.10,246.85 529.50,247.30 529.80,247.64 529.90,247.75 530.30,248.21 530.70,248.68 531.10,249.11 531.40,249.42 531.50,249.50 531.90,249.82 532.30,251.07 532.70,251.43 533.10,251.79 533.50,252.15 533.90,252.51 534.30,252.86 534.70,253.25 534.90,253.42" fill="none" stroke="#993300" stroke-width="2.0" stroke-linejoin="round"/>
<polyline points="49.50,12.57 49.90,12.79 50.30,13.00 50.70,13.20 51.10,13.39 51.50,13.57 51.90,13.75 52.30,15.07 52.70,15.27 53.10,15.49 53.30,15.57 53.50,15.61 53.90,15.68 54.30,15.76 54.70,15.85 55.10,15.94 55.50,16.02 55.90,16.10 56.30,16.18 56.70,16.25 57.10,16.34 57.20,16.36 57.50,16.59 57.90,16.89 58.30,18.09 58.70,18.34 59.10,18.60 59.50,18.89 59.60,18.95 59.90,18.98 60.30,19.02 60.70,19.06 61.10,19.10 61.50,19.13 61.90,19.17 62.30,19.21 62.70,19.25 62.70,19.25 63.10,19.49 63.50,19.76 63.90,20.96 64.30,21.18 64.70,21.41 65.10,21.64 65.50,21.90 65.80,22.07 65.90,22.07 66.30,22.08 66.70,22.09 67.10,22.11 67.50,22.13 67.90,22.15 68.30,22.18 68.60,22.16 68.70,22.17 69.10,22.14 69.50,22.23 69.90,24.00 70.30,24.12 70.70,24.24 71.10,24.18 71.50,24.20 71.50,24.20 71.90,25.56 72.30,26.92 72.70,28.28 73.00,29.30 73.10,29.47 73.50,30.14 73.90,30.81 74.30,31.49 74.70,32.16 75.10,32.77 75.20,32.90 75.50,33.56 75.90,34.11 76.30,34.58 76.70,35.05 77.10,35.51 77.50,36.06 77.80,36.39 77.90,36.31 78.30,35.99 78.70,35.71 79.10,35.44 79.50,35.20 79.60,35.14 79.90,35.19 80.30,35.26 80.70,35.30 81.10,35.34 81.50,35.37 81.90,35.47 82.30,35.55 82.70,35.60 83.10,35.61 83.50,35.62 83.90,35.61 84.00,35.61 84.30,35.74 84.70,35.90 85.10,36.05 85.50,36.20 85.90,36.33 86.30,36.45 86.70,36.57 87.10,37.91 87.50,38.05 87.90,38.20 88.30,38.34 88.70,38.47 89.10,38.60 89.50,38.73 89.80,38.82 89.90,38.87 90.30,39.08 90.70,39.28 91.10,39.48 91.50,39.68 91.90,39.87 92.30,40.07 92.70,40.27 93.10,41.80 93.50,41.99 93.90,42.18 94.30,42.38 94.70,42.60 95.00,42.76 95.10,42.79 95.50,42.88 95.90,42.99 96.30,43.10 96.70,43.21 97.10,43.34 97.50,43.47 97.90,43.62 98.30,43.77 98.70,44.80 99.10,44.92 99.50,45.04 99.90,45.16 100.00,45.19 100.30,45.21 100.70,45.23 101.10,45.26 101.50,45.30 101.90,45.34 102.30,45.37 102.70,45.37 103.10,45.35 103.50,45.30 103.90,45.22 104.30,45.06 104.70,46.68 105.00,46.49 105.10,46.55 105.50,46.86 105.90,47.39 106.30,47.98 106.70,48.55 107.00,49.00 107.10,49.40 107.50,51.00 107.90,52.60 108.30,54.20 108.70,55.80 109.00,57.00 109.10,57.10 109.50,57.28 109.90,57.46 110.30,58.78 110.70,59.11 111.10,59.44 111.50,59.78 111.90,60.06 112.00,60.11 112.30,59.93 112.70,59.70 113.10,59.49 113.50,59.29 113.90,59.10 114.30,58.93 114.70,58.74 115.00,58.60 115.10,58.62 115.50,58.72 115.90,58.82 116.30,58.99 116.70,59.15 117.10,59.28 117.50,59.38 117.90,59.47 118.30,59.52 118.70,59.56 119.00,59.58 119.10,59.63 119.50,59.83 119.90,60.03 120.30,60.21 120.70,60.39 121.10,60.56 121.50,60.72 121.90,62.22 122.30,62.40 122.70,62.57 123.10,62.75 123.50,62.93 123.90,63.12 124.00,63.16 124.30,63.27 124.70,63.41 125.10,63.55 125.50,63.69 125.90,63.83 126.30,63.98 126.70,64.13 127.10,64.28 127.50,64.42 127.90,65.84 128.30,65.99 128.70,66.13 129.10,66.28 129.50,66.42 129.90,66.57 130.00,66.61 130.30,66.70 130.70,66.84 131.10,66.97 131.50,67.10 131.90,67.23 132.30,67.37 132.70,67.51 133.10,67.66 133.50,68.94 133.90,69.07 134.30,69.20 134.70,69.34 135.00,69.44 135.10,69.47 135.50,69.57 135.90,69.67 136.30,69.77 136.70,69.88 137.10,69.98 137.50,70.04 137.90,70.08 138.30,70.08 138.70,70.14 139.10,70.21 139.50,71.92 139.90,71.71 140.00,71.67 140.30,72.01 140.70,72.70 141.10,73.44 141.40,74.00 141.50,74.44 141.90,76.19 142.30,77.94 142.70,79.69 143.00,81.00 143.10,81.13 143.50,81.66 143.90,82.06 144.30,82.57 144.70,83.07 145.10,84.01 145.50,84.55 145.90,85.17 146.00,85.31 146.30,85.49 146.70,85.68 147.10,85.86 147.50,86.09 147.90,86.33 148.00,86.39 148.30,86.08 148.70,85.69 149.10,85.30 149.50,84.90 149.90,84.50 150.00,84.40 150.30,84.47 150.70,84.57 151.10,84.66 151.50,84.76 151.90,84.86 152.30,85.02 152.70,85.14 153.10,85.22 153.50,85.27 153.90,85.30 154.30,85.32 154.70,85.33 155.00,85.33 155.10,85.39 155.50,85.70 155.90,85.97 156.30,86.21 156.70,87.60 157.10,87.88 157.50,88.15 157.90,88.41 158.30,88.66 158.70,88.93 159.00,89.12 159.10,89.16 159.50,89.34 159.90,89.51 160.30,89.68 160.70,89.86 161.10,90.03 161.50,90.22 161.90,90.42 162.30,90.61 162.70,92.09 163.10,92.27 163.50,92.45 163.90,92.65 164.00,92.70 164.30,92.78 164.70,92.90 165.10,93.02 165.50,93.14 165.90,93.26 166.30,93.39 166.70,93.53 167.10,93.67 167.50,93.81 167.90,93.95 168.30,95.14 168.70,95.27 169.00,95.37 169.10,95.39 169.50,95.47 169.90,95.56 170.30,95.66 170.70,95.75 171.10,95.84 171.50,95.92 171.90,95.99 172.30,96.05 172.70,96.07 173.00,96.09 173.10,96.18 173.50,96.57 173.90,96.89 174.30,98.30 174.70,98.59 175.10,98.78 175.50,98.91 175.60,99.00 175.90,100.00 176.30,101.33 176.70,102.67 177.10,104.00 177.50,105.33 177.90,106.67 178.00,107.00 178.30,107.46 178.70,108.04 179.10,108.64 179.50,109.25 179.90,109.97 180.30,110.57 180.70,111.25 181.00,111.76 181.10,111.87 181.50,112.27 181.90,112.63 182.30,112.97 182.40,113.05 182.70,112.74 183.10,112.34 183.50,111.98 183.90,111.64 184.00,111.56 184.30,111.62 184.70,111.71 185.10,111.78 185.50,111.84 185.90,111.90 186.30,112.02 186.70,112.15 187.10,112.24 187.50,112.27 187.90,112.30 188.30,112.32 188.70,112.32 189.00,112.32 189.10,112.37 189.50,112.59 189.90,112.80 190.30,113.00 190.70,113.18 191.10,113.36 191.50,114.81 191.90,115.03 192.30,115.23 192.70,115.42 193.10,115.61 193.50,115.81 193.90,116.02 194.00,116.07 194.30,116.15 194.70,116.26 195.10,116.38 195.50,116.50 195.90,116.62 196.30,116.75 196.70,116.88 197.10,117.02 197.50,118.24 197.90,118.37 198.30,118.49 198.70,118.62 199.10,118.74 199.50,118.86 199.90,118.99 200.00,119.02 200.30,119.11 200.70,119.24 201.10,119.36 201.50,119.48 201.90,119.61 202.30,119.74 202.70,119.87 203.10,121.06 203.50,121.18 203.90,121.30 204.30,121.42 204.70,121.55 205.00,121.65 205.10,121.67 205.50,121.75 205.90,121.84 206.30,121.92 206.70,121.99 207.10,122.06 207.50,122.11 207.90,122.15 208.30,122.07 208.70,122.09 209.00,123.70 209.10,123.74 209.50,123.91 209.90,124.21 210.30,124.54 210.70,124.71 211.00,125.00 211.10,125.32 211.50,126.62 211.90,127.92 212.30,129.22 212.70,130.52 213.00,131.50 213.10,131.62 213.50,131.96 213.90,132.29 214.30,132.72 214.70,133.84 215.10,134.26 215.50,134.68 215.90,135.10 216.30,135.58 216.40,135.67 216.70,135.50 217.10,135.30 217.50,135.12 217.90,134.96 218.30,134.83 218.70,134.71 219.10,134.57 219.50,134.43 219.60,134.40 219.90,134.44 220.30,134.49 220.70,134.53 221.10,134.59 221.50,134.66 221.90,134.73 222.30,134.78 222.70,134.82 223.10,134.84 223.50,134.86 223.90,134.87 224.30,134.87 224.50,134.87 224.70,134.93 225.10,135.05 225.50,135.16 225.90,135.26 226.30,136.19 226.70,136.33 227.10,136.46 227.50,136.59 227.90,136.70 228.30,136.80 228.70,136.91 229.10,137.02 229.50,137.13 229.50,137.13 229.90,137.24 230.30,137.35 230.70,137.45 231.10,137.56 231.50,137.67 231.90,137.78 232.30,138.81 232.70,138.91 233.10,139.02 233.50,139.13 233.90,139.24 234.30,139.35 234.40,139.37 234.70,139.43 235.10,139.51 235.50,139.60 235.90,139.68 236.30,139.77 236.70,139.86 237.10,139.96 237.50,140.06 237.90,140.84 238.30,140.93 238.70,141.01 239.10,141.10 239.30,141.15 239.50,141.16 239.90,141.20 240.30,141.24 240.70,141.29 241.10,141.33 241.50,141.37 241.90,141.39 242.30,141.39 242.70,141.38 243.10,141.35 243.50,141.30 243.90,142.58 244.20,142.64 244.30,142.67 244.70,142.84 245.10,143.16 245.50,143.51 245.90,143.87 246.30,144.20 246.60,144.50 246.70,144.74 247.10,145.71 247.50,146.67 247.90,147.64 248.30,148.56 248.30,148.56 248.70,148.43 249.10,148.38 249.50,150.13 249.90,150.27 250.30,150.38 250.70,150.43 251.10,150.53 251.50,150.69 251.50,150.69 251.90,150.62 252.30,150.56 252.70,150.51 253.10,150.48 253.50,150.47 253.90,150.47 254.30,150.46 254.70,150.43 255.10,150.41 255.50,150.40 255.90,150.40 256.30,150.39 256.70,150.37 257.10,150.35 257.30,150.33 257.50,150.38 257.90,150.47 258.30,150.55 258.70,150.63 259.10,150.70 259.50,150.76 259.90,150.82 260.30,150.87 260.70,150.93 261.10,151.57 261.50,151.64 261.90,151.70 262.30,151.76 262.70,151.83 263.10,151.89 263.50,151.96 263.80,152.01 263.90,152.02 264.30,152.08 264.70,152.14 265.10,152.20 265.50,152.27 265.90,152.33 266.30,152.39 266.70,152.45 267.10,153.05 267.50,153.11 267.90,153.17 268.30,153.23 268.70,153.29 268.70,153.29 269.10,153.34 269.50,153.40 269.90,153.46 270.30,153.51 270.70,153.57 271.10,153.62 271.50,153.68 271.90,153.74 272.30,153.79 272.70,154.35 273.10,154.40 273.50,154.46 273.90,154.52 274.30,154.57 274.70,154.63 275.10,154.69 275.30,154.72 275.50,154.74 275.90,154.79 276.30,154.84 276.70,154.89 277.10,154.94 277.50,154.94 277.90,154.91 278.30,154.85 278.70,155.90 279.10,155.94 279.50,155.95 279.90,155.96 280.20,155.90 280.30,156.00 280.70,156.46 281.10,157.00 281.50,157.55 281.80,157.92 281.90,157.95 282.30,158.02 282.70,158.13 283.10,158.26 283.50,158.44 283.90,158.66 284.30,159.87 284.70,159.94 285.00,160.04 285.10,160.03 285.50,159.98 285.90,159.94 286.30,159.91 286.70,159.89 287.10,159.88 287.50,159.89 287.90,159.90 288.30,159.91 288.70,159.91 289.10,159.91 289.50,159.91 289.90,159.91 290.00,160.09 290.30,160.12 290.70,160.16 291.10,160.20 291.50,160.24 291.90,160.28 292.30,160.31 292.70,160.35 293.10,160.38 293.50,160.41 293.90,160.44 294.30,160.47 294.70,160.50 295.10,160.53 295.50,160.56 295.90,160.88 296.30,160.91 296.70,160.94 297.10,160.97 297.50,161.00 297.90,161.03 298.00,161.04 298.30,161.08 298.70,161.12 299.10,161.17 299.50,161.21 299.90,161.26 300.30,161.30 300.70,161.34 301.10,161.38 301.50,161.43 301.90,161.86 302.30,161.90 302.70,161.94 303.10,161.98 303.50,162.03 303.90,162.07 304.30,162.11 304.70,162.16 305.10,162.21 305.50,162.26 305.90,162.31 306.00,162.32 306.30,162.34 306.70,162.36 307.10,162.39 307.50,162.68 307.90,162.69 308.30,162.71 308.70,162.73 309.10,162.76 309.50,162.78 309.90,162.81 310.30,162.83 310.70,162.85 311.10,162.86 311.50,162.87 311.90,162.88 312.00,162.88 312.30,162.93 312.70,162.99 313.10,163.01 313.50,163.75 313.90,163.86 314.30,163.95 314.70,164.03 315.10,164.08 315.50,164.10 315.60,164.10 315.90,164.33 316.30,164.67 316.70,165.02 317.10,165.37 317.50,165.69 317.90,165.94 318.00,166.00 318.30,166.02 318.70,166.10 319.10,167.27 319.50,167.27 319.90,167.29 320.30,167.33 320.70,167.39 321.00,167.45 321.10,167.43 321.50,167.39 321.90,167.35 322.30,167.32 322.70,167.29 323.10,167.28 323.50,167.26 323.90,167.23 324.30,167.21 324.70,167.19 325.10,167.17 325.50,167.14 325.90,167.12 326.30,167.10 326.70,167.08 327.10,167.06 327.50,167.03 327.90,167.00 328.00,166.99 328.30,167.04 328.70,167.09 329.10,167.14 329.50,167.18 329.90,167.22 330.30,167.26 330.70,167.65 331.10,167.70 331.50,167.75 331.90,167.79 332.30,167.83 332.70,167.88 333.10,167.92 333.50,167.96 333.90,168.01 334.30,168.05 334.70,168.10 335.10,168.14 335.50,168.19 335.90,168.23 336.00,168.25 336.30,168.27 336.70,168.66 337.10,168.70 337.50,168.73 337.90,168.77 338.30,168.80 338.70,168.84 339.10,168.88 339.50,168.91 339.90,168.95 340.30,168.99 340.70,169.03 341.10,169.06 341.50,169.10 341.90,169.13 342.30,169.51 342.70,169.55 343.10,169.58 343.50,169.62 343.90,169.66 344.00,169.67 344.30,169.70 344.70,169.74 345.10,169.78 345.50,169.83 345.90,169.87 346.30,169.91 346.70,169.95 347.10,169.98 347.50,169.98 347.90,169.97 348.30,170.62 348.70,170.68 349.10,170.72 349.50,170.75 349.90,170.76 350.00,170.76 350.30,170.95 350.70,171.21 351.10,171.49 351.50,171.76 351.90,172.02 352.30,172.24 352.40,172.29 352.70,172.34 353.10,172.41 353.50,172.54 353.90,173.65 354.30,173.69 354.70,173.75 355.10,173.82 355.50,173.91 355.90,174.02 356.00,174.05 356.30,174.03 356.70,174.00 357.10,173.98 357.50,173.97 357.90,173.97 358.30,173.97 358.70,173.99 359.10,174.00 359.50,173.98 359.90,174.03 360.30,174.03 360.70,174.03 361.10,174.03 361.50,174.03 361.90,174.02 362.00,174.02 362.30,174.06 362.70,174.11 363.10,174.17 363.50,174.21 363.90,174.26 364.30,174.30 364.70,174.33 365.10,174.37 365.50,174.80 365.90,174.84 366.30,174.89 366.70,174.93 367.10,174.97 367.50,175.02 367.90,175.06 368.30,175.10 368.70,175.15 369.10,175.19 369.50,175.23 369.90,175.28 370.00,175.29 370.30,175.32 370.70,175.36 371.10,175.40 371.50,175.82 371.90,175.86 372.30,175.90 372.70,175.94 373.10,175.98 373.50,176.02 373.90,176.06 374.30,176.10 374.70,176.15 375.10,176.19 375.50,176.24 375.90,176.28 376.00,176.29 376.30,176.32 376.70,176.35 377.10,176.68 377.50,176.71 377.90,176.74 378.30,176.77 378.70,176.80 379.10,176.83 379.50,176.86 379.90,176.89 380.30,176.92 380.70,176.95 381.10,176.97 381.50,176.97 381.90,176.96 382.30,176.93 382.70,176.88 383.10,177.67 383.50,177.70 383.90,177.72 384.00,177.72 384.30,177.91 384.70,178.15 385.10,178.44 385.50,178.73 385.90,179.02 386.30,179.30 386.70,179.55 387.00,179.70 387.10,179.72 387.50,179.81 387.90,179.91 388.30,180.03 388.70,180.94 389.10,180.97 389.50,181.01 389.90,181.08 390.00,181.09 390.30,181.07 390.70,181.04 391.10,181.02 391.50,181.00 391.90,180.99 392.30,180.99 392.70,180.99 393.10,181.00 393.50,180.99 393.90,180.98 394.30,180.96 394.70,181.05 395.10,181.05 395.50,181.05 395.90,181.04 396.00,181.04 396.30,181.09 396.70,181.15 397.10,181.20 397.50,181.25 397.90,181.30 398.30,181.34 398.70,181.38 399.10,181.42 399.50,181.47 399.90,181.51 400.30,181.94 400.70,181.98 401.10,182.03 401.50,182.07 401.90,182.11 402.30,182.16 402.70,182.20 403.10,182.24 403.50,182.28 403.90,182.33 404.00,182.34 404.30,182.37 404.70,182.42 405.10,182.47 405.50,182.52 405.90,182.57 406.30,183.05 406.70,183.11 407.10,183.16 407.50,183.21 407.90,183.26 408.30,183.31 408.70,183.36 409.10,183.40 409.50,183.46 409.90,183.51 410.30,183.56 410.70,183.61 411.10,183.67 411.50,183.73 411.90,184.16 412.00,184.18 412.30,184.20 412.70,184.23 413.10,184.26 413.50,184.29 413.90,184.32 414.30,184.35 414.70,184.39 415.10,184.42 415.50,184.46 415.90,184.49 416.30,184.50 416.70,184.49 417.10,184.45 417.50,184.41 417.90,185.25 418.30,185.29 418.70,185.32 419.00,185.33 419.10,185.39 419.50,185.65 419.90,185.98 420.30,186.33 420.70,186.67 421.10,187.01 421.50,187.33 421.90,187.58 422.00,187.64 422.30,187.68 422.70,187.82 423.10,187.98 423.50,189.19 423.90,189.24 424.30,189.32 424.70,189.41 425.00,189.50 425.10,189.48 425.50,189.40 425.90,189.34 426.30,189.30 426.70,189.26 427.10,189.23 427.50,189.20 427.90,189.17 428.30,189.14 428.70,189.10 429.10,189.05 429.50,189.08 429.90,189.05 430.00,189.05 430.30,189.11 430.70,189.19 431.10,189.26 431.50,189.33 431.90,189.39 432.30,189.45 432.70,189.50 433.10,189.54 433.50,189.59 433.90,189.64 434.30,189.69 434.70,189.74 435.10,190.23 435.50,190.28 435.90,190.33 436.30,190.38 436.70,190.43 437.10,190.48 437.50,190.53 437.90,190.58 438.00,190.59 438.30,190.64 438.70,190.69 439.10,190.75 439.50,190.80 439.90,190.86 440.30,190.91 440.70,190.97 441.10,191.52 441.50,191.58 441.90,191.63 442.30,191.69 442.70,191.74 443.10,191.80 443.50,191.85 443.90,191.91 444.30,191.97 444.70,192.03 445.10,192.09 445.50,192.15 445.90,192.21 446.00,192.23 446.30,192.26 446.70,192.72 447.10,192.76 447.50,192.80 447.90,192.84 448.30,192.88 448.70,192.92 449.10,192.96 449.50,193.00 449.90,193.04 450.30,193.07 450.70,193.08 451.10,193.06 451.50,193.03 451.90,192.98 452.30,192.91 452.70,194.15 453.00,194.14 453.10,194.19 453.50,194.43 453.90,194.81 454.30,195.21 454.70,195.61 455.10,196.01 455.50,196.41 455.90,196.78 456.00,196.87 456.30,197.04 456.70,197.24 457.10,197.48 457.50,197.77 457.90,198.07 458.30,199.25 458.70,199.52 459.00,199.67 459.10,199.63 459.50,199.50 459.90,199.39 460.30,199.29 460.70,199.20 461.10,199.12 461.50,199.06 461.90,199.00 462.00,198.99 462.30,199.04 462.70,199.09 463.10,199.13 463.50,199.17 463.90,199.21 464.30,199.54 464.70,199.61 465.10,199.66 465.50,199.71 465.90,199.75 466.30,199.79 466.70,199.84 467.10,199.88 467.50,199.92 467.90,199.96 468.30,200.00 468.70,200.03 469.10,200.07 469.50,200.10 469.90,200.62 470.00,200.63 470.30,200.69 470.70,200.77 471.10,200.85 471.50,200.93 471.90,201.00 472.30,201.07 472.70,201.14 473.10,201.21 473.50,201.28 473.90,201.35 474.30,201.42 474.70,201.48 475.10,201.55 475.50,201.62 475.90,202.29 476.30,202.36 476.70,202.43 477.10,202.50 477.50,202.56 477.90,202.63 478.00,202.65 478.30,202.70 478.70,202.76 479.10,202.82 479.50,202.89 479.90,202.95 480.30,203.01 480.70,203.08 481.10,203.14 481.50,203.77 481.90,203.84 482.30,203.90 482.70,203.96 483.10,204.02 483.50,204.09 483.90,204.15 484.30,204.22 484.70,204.29 485.00,204.34 485.10,204.35 485.50,204.39 485.90,204.38 486.30,204.34 486.70,204.26 487.10,204.16 487.50,205.46 487.90,205.50 488.30,205.46 488.60,205.29 488.70,205.39 489.10,205.85 489.50,206.50 489.90,207.17 490.30,207.83 490.70,208.50 491.00,208.97 491.10,209.10 491.50,209.57 491.90,210.06 492.30,210.57 492.70,211.07 493.10,212.01 493.50,212.59 493.90,213.28 494.00,213.41 494.30,213.25 494.70,213.06 495.10,212.89 495.50,212.75 495.90,212.62 496.30,212.51 496.70,212.43 497.00,212.38 497.10,212.40 497.50,212.49 497.90,212.57 498.30,212.65 498.70,212.71 499.10,213.25 499.50,213.37 499.90,213.47 500.30,213.55 500.70,213.62 501.10,213.70 501.50,213.77 501.90,213.85 502.30,213.92 502.70,213.98 503.10,214.05 503.50,214.11 503.90,214.17 504.00,214.19 504.30,214.27 504.70,215.18 505.10,215.29 505.50,215.41 505.90,215.52 506.30,215.62 506.70,215.73 507.10,215.83 507.50,215.94 507.90,216.04 508.30,216.14 508.70,216.24 509.10,216.35 509.50,216.46 509.90,216.57 510.30,216.68 510.70,217.62 511.10,217.72 511.50,217.82 511.80,217.90 511.90,217.91 512.30,217.97 512.70,218.03 513.10,218.10 513.50,218.17 513.90,218.23 514.30,218.31 514.70,218.38 515.10,218.45 515.50,218.52 515.90,218.60 516.30,219.30 516.70,219.37 517.10,219.44 517.50,219.52 517.90,219.59 518.30,219.66 518.40,219.68 518.70,219.73 519.10,219.80 519.50,219.87 519.90,219.94 520.30,220.01 520.70,220.00 521.10,219.94 521.50,219.85 521.90,219.80 522.30,221.46 522.70,221.46 523.10,221.26 523.30,221.13 523.50,221.47 523.90,222.41 524.30,223.36 524.70,224.30 524.70,224.30 525.10,225.26 525.50,226.21 525.90,227.17 526.30,228.12 526.50,228.60 526.70,228.73 527.10,228.82 527.50,229.16 527.90,230.48 528.30,230.83 528.70,231.19 528.70,231.19 529.10,231.42 529.50,231.64 529.90,231.91 530.30,232.20 530.60,232.41 530.70,232.33 531.10,232.01 531.50,231.70 531.90,231.41 532.00,231.34 532.30,231.39 532.70,231.46 533.10,231.54 533.50,231.60 533.90,231.65 534.30,231.70 534.70,231.79 535.10,231.85 535.50,231.89 535.80,231.92" fill="none" stroke="#0000ff" stroke-width="2.05" stroke-linejoin="round"/>
<rect x="379" y="14.7" width="151.9" height="47.9" fill="#fff" stroke="#000" stroke-width="1.4"/>
<path d="M381.7,23.2 H397.2" stroke="#0000ff" stroke-width="1.9"/>
<path d="M381.7,38.4 H395.7" stroke="#ff0000" stroke-width="1.9" stroke-dasharray="1.7,1.35"/>
<path d="M381.7,53.5 H396.3" stroke="#993300" stroke-width="1.9" stroke-dasharray="5.9,1.4,1.4,1.5"/>
<text x="397.5" y="27.8" font-size="14.1">True OCVs</text>
<text x="397.5" y="43.3" font-size="14.1">OCVs with SMM</text>
<text x="397.5" y="58.7" font-size="14.1">OCVs without SMM</text>
</svg></body></html>
